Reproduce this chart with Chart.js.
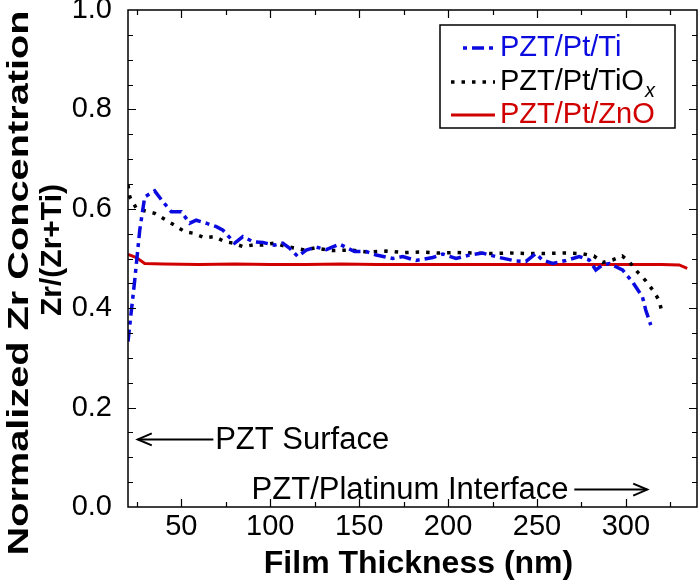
<!DOCTYPE html>
<html>
<head>
<meta charset="utf-8">
<script src="https://cdn.jsdelivr.net/npm/chart.js@4/dist/chart.umd.min.js"></script>
<style>
  html, body { margin: 0; padding: 0; background: #fff; }
  #wrap { width: 700px; height: 585px; }
</style>
</head>
<body>
<div id="wrap"><canvas id="zrChart" width="700" height="585"></canvas></div>
<script>
// Datos: espesor (nm) y fracción Zr/(Zr+Ti)
const thicknessTi = [20, 23.8, 26.6, 29.4, 35, 39.7, 44.4, 50, 54.7, 58.4, 64, 69.7, 73.4, 80, 84.6, 90.2, 95.8, 102.4, 107, 110.8, 115.5, 120.2, 125.8, 131.5, 139, 147.4, 154, 159.6, 168.9, 174.5, 182, 191.4, 197, 204.5, 212, 219.4, 228.8, 238, 243.8, 249.4, 253, 258.8, 266.3, 273.8, 279.4, 283.1, 286.9, 290.6, 298.1, 303.7, 309.3, 311.2, 314];
const zrTi = [0.333, 0.457, 0.557, 0.624, 0.636, 0.614, 0.594, 0.594, 0.571, 0.577, 0.571, 0.564, 0.557, 0.531, 0.544, 0.534, 0.532, 0.527, 0.531, 0.521, 0.504, 0.517, 0.523, 0.518, 0.529, 0.514, 0.514, 0.507, 0.500, 0.504, 0.496, 0.502, 0.509, 0.500, 0.507, 0.511, 0.502, 0.495, 0.494, 0.510, 0.497, 0.490, 0.496, 0.504, 0.497, 0.477, 0.487, 0.490, 0.477, 0.453, 0.423, 0.396, 0.366];

const thicknessTiOx = [20, 21, 24.7, 29.4, 35, 40.6, 46.2, 51.8, 56.5, 63, 68.7, 74.3, 79, 84.6, 90.2, 95.8, 102.4, 108, 113.6, 119.3, 124.9, 135, 145, 155, 165, 175, 185, 195, 205, 215, 225, 235, 245, 255, 265, 275, 282, 287, 292.5, 298, 301.8, 306.5, 311.2, 315, 318.7, 320.2];
const zrTiOx = [0.648, 0.624, 0.601, 0.596, 0.591, 0.579, 0.567, 0.554, 0.551, 0.542, 0.544, 0.534, 0.531, 0.524, 0.527, 0.527, 0.531, 0.525, 0.521, 0.517, 0.521, 0.516, 0.517, 0.513, 0.515, 0.512, 0.513, 0.511, 0.512, 0.511, 0.510, 0.511, 0.510, 0.510, 0.511, 0.510, 0.505, 0.492, 0.497, 0.505, 0.494, 0.473, 0.455, 0.437, 0.416, 0.393];

const thicknessZnO = [20, 24.7, 29.4, 40, 60, 80, 100, 120, 140, 160, 180, 200, 220, 240, 260, 280, 300, 320, 330, 334.5];
const zrZnO = [0.508, 0.502, 0.490, 0.489, 0.488, 0.489, 0.488, 0.488, 0.489, 0.488, 0.488, 0.488, 0.488, 0.488, 0.488, 0.488, 0.488, 0.488, 0.487, 0.480];

const xTicks = [50, 100, 150, 200, 250, 300];
const yTicks = [0, 0.2, 0.4, 0.6, 0.8, 1.0];
const seriesNames = ['PZT/Pt/Ti', 'PZT/Pt/TiO', 'PZT/Pt/ZnO'];

const BLUE = '#0b0be0';
const RED = '#d00000';
const FONT = "'Liberation Sans', Arial, sans-serif";

const toPoints = (xs, ys) => xs.map((x, i) => ({ x: x, y: ys[i] }));

// Marco con marcas hacia dentro en los cuatro lados
const framePlugin = {
    id: 'frame',
    afterDatasetsDraw(chart) {
        const ctx = chart.ctx;
        const { left, right, top, bottom } = chart.chartArea;
        const xs = chart.scales.x, ys = chart.scales.y;
        ctx.save();
        ctx.strokeStyle = '#000';
        ctx.lineWidth = 1.5;
        ctx.strokeRect(left, top, right - left, bottom - top);
        ctx.lineWidth = 1.2;
        ctx.beginPath();
        for (let v = 25; v < 340; v += 25) {
            const px = Math.round(xs.getPixelForValue(v)) + 0.5;
            const len = v % 50 === 0 ? 8 : 5;
            ctx.moveTo(px, bottom); ctx.lineTo(px, bottom - len);
            ctx.moveTo(px, top); ctx.lineTo(px, top + len);
        }
        for (let k = 1; k < 20; k++) {
            const v = k * 0.05;
            const py = Math.round(ys.getPixelForValue(v)) + 0.5;
            const len = k % 4 === 0 ? 8 : 5;
            ctx.moveTo(left, py); ctx.lineTo(left + len, py);
            ctx.moveTo(right, py); ctx.lineTo(right - len, py);
        }
        ctx.stroke();
        ctx.restore();
    }
};

// Flechas y textos de anotación
function arrow(ctx, x1, x2, y, tipAtStart) {
    ctx.beginPath();
    ctx.moveTo(x1, y); ctx.lineTo(x2, y);
    ctx.stroke();
    const tip = tipAtStart ? x1 : x2;
    const dir = tipAtStart ? 1 : -1;
    ctx.beginPath();
    ctx.moveTo(tip + dir * 14, y - 6);
    ctx.lineTo(tip, y);
    ctx.lineTo(tip + dir * 14, y + 6);
    ctx.stroke();
}

const notesPlugin = {
    id: 'notes',
    afterDatasetsDraw(chart) {
        const ctx = chart.ctx;
        const xs = chart.scales.x, ys = chart.scales.y;
        ctx.save();
        ctx.strokeStyle = '#000';
        ctx.fillStyle = '#000';
        ctx.lineWidth = 2;
        const y1 = ys.getPixelForValue(0.136);
        arrow(ctx, xs.getPixelForValue(25.5), xs.getPixelForValue(68), y1, true);
        ctx.font = '31px ' + FONT;
        ctx.textBaseline = 'middle';
        ctx.textAlign = 'left';
        ctx.fillText('PZT Surface', xs.getPixelForValue(69), y1 + 1);
        const y2 = ys.getPixelForValue(0.035);
        ctx.fillText('PZT/Platinum Interface', xs.getPixelForValue(89.5), y2 + 1);
        arrow(ctx, xs.getPixelForValue(271), xs.getPixelForValue(312), y2, false);
        ctx.restore();
    }
};

// Leyenda propia (con subíndice x en cursiva)
const legendPlugin = {
    id: 'customLegend',
    afterDraw(chart) {
        const ctx = chart.ctx;
        ctx.save();
        ctx.fillStyle = '#fff';
        ctx.fillRect(440, 25, 235, 103);
        ctx.strokeStyle = '#000';
        ctx.lineWidth = 1.5;
        ctx.strokeRect(440, 25, 235, 103);
        const rows = [48, 82, 115];
        const colors = [BLUE, '#000', RED];
        chart.data.datasets.forEach((ds, i) => {
            const y = rows[i];
            ctx.strokeStyle = ds.borderColor;
            ctx.lineWidth = ds.borderWidth;
            ctx.setLineDash(ds.borderDash || []);
            ctx.lineDashOffset = i === 0 ? 14 : 0;
            ctx.beginPath();
            ctx.moveTo(i === 0 ? 460 : 451, y); ctx.lineTo(495, y);
            ctx.stroke();
            ctx.setLineDash([]);
            ctx.fillStyle = colors[i];
            ctx.font = '29px ' + FONT;
            ctx.textBaseline = 'middle';
            ctx.fillText(seriesNames[i], 500, y);
            if (i === 1) {
                const w = ctx.measureText(seriesNames[i]).width;
                ctx.font = 'italic 20px ' + FONT;
                ctx.fillText('x', 500 + w + 1, y + 9);
            }
        });
        ctx.restore();
    }
};

// Títulos de ejes
const titlesPlugin = {
    id: 'axisTitles',
    afterDraw(chart) {
        const ctx = chart.ctx;
        const { left, right } = chart.chartArea;
        ctx.save();
        ctx.fillStyle = '#000';
        ctx.font = 'bold 32px ' + FONT;
        ctx.textAlign = 'center';
        ctx.textBaseline = 'middle';
        ctx.fillText('Film Thickness (nm)', (left + right) / 2 + 6, 564);

        ctx.font = 'bold 30px ' + FONT;
        const line1 = 'Normalized Zr Concentration';
        const w1 = ctx.measureText(line1).width;
        ctx.translate(20, 283);
        ctx.rotate(-Math.PI / 2);
        ctx.save();
        ctx.scale(545 / w1, 1);
        ctx.fillText(line1, 0, 0);
        ctx.restore();
        ctx.fillText('Zr/(Zr+Ti)', 283 - 250, 33);
        ctx.restore();
    }
};

const ctxZr = document.getElementById('zrChart').getContext('2d');
new Chart(ctxZr, {
    type: 'scatter',
    data: {
        datasets: [
            {
                label: seriesNames[0],
                data: toPoints(thicknessTi, zrTi),
                showLine: true,
                borderColor: BLUE,
                borderWidth: 3.5,
                borderDash: [12, 5, 4, 5],
                pointRadius: 0,
                tension: 0
            },
            {
                label: seriesNames[1],
                data: toPoints(thicknessTiOx, zrTiOx),
                showLine: true,
                borderColor: '#000',
                borderWidth: 3.5,
                borderDash: [3.5, 7],
                pointRadius: 0,
                tension: 0
            },
            {
                label: seriesNames[2],
                data: toPoints(thicknessZnO, zrZnO),
                showLine: true,
                borderColor: RED,
                borderWidth: 3,
                pointRadius: 0,
                tension: 0
            }
        ]
    },
    options: {
        responsive: false,
        animation: false,
        devicePixelRatio: 1,
        layout: { padding: { top: 10, right: 3, left: 0, bottom: 0 } },
        plugins: {
            legend: { display: false },
            tooltip: { enabled: false }
        },
        scales: {
            x: {
                type: 'linear',
                min: 20,
                max: 340,
                grid: { display: false, drawTicks: false },
                border: { display: false },
                ticks: { color: '#000', font: { family: FONT, size: 29 }, padding: 3, maxRotation: 0 },
                afterBuildTicks: (scale) => { scale.ticks = xTicks.map(v => ({ value: v })); },
                afterFit: (scale) => { scale.height = 78; scale.paddingLeft = 0; scale.paddingRight = 0; }
            },
            y: {
                min: 0,
                max: 1,
                grid: { display: false, drawTicks: false },
                border: { display: false },
                ticks: { color: '#000', font: { family: FONT, size: 29 }, padding: 16, callback: v => v.toFixed(1) },
                afterBuildTicks: (scale) => { scale.ticks = yTicks.map(v => ({ value: v })); },
                afterFit: (scale) => { scale.width = 128; scale.paddingTop = 0; scale.paddingBottom = 0; }
            }
        }
    },
    plugins: [framePlugin, notesPlugin, legendPlugin, titlesPlugin]
});
</script>
</body>
</html>
